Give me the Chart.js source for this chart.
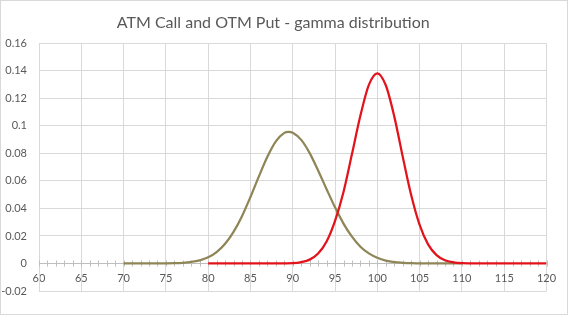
<!DOCTYPE html>
<html>
<head>
<meta charset="utf-8">
<script src="https://cdn.jsdelivr.net/npm/chart.js@4"></script>
<style>
  html, body { margin: 0; padding: 0; background: #fff; }
  #wrap { position: relative; width: 571px; height: 316px; }
  #c { position: absolute; left: 0; top: 0; }
  #frame { position: absolute; left: 0; top: 0; width: 568px; height: 315px; box-sizing: border-box; border: 1px solid #d9d9d9; pointer-events: none; }
</style>
</head>
<body>
<div id="wrap"><canvas id="c" width="571" height="316"></canvas><div id="frame"></div></div>
<script>
const chartTitle = 'ATM Call and OTM Put - gamma distribution';

// OTM put (olive curve)
const putPrices = [70,71,72,73,74,75,76,77,78,79,80,81,82,83,84,85,86,87,88,89,89.5,90,91,92,93,94,95,96,97,98,99,100,101,102,103,104,105,106,107,108,109,110];
const putGamma  = [0,0,0,0.00001,0.00003,0.00008,0.0002,0.0005,0.0011,0.0023,0.0045,0.0083,0.0143,0.0230,0.0344,0.0483,0.0633,0.0775,0.0887,0.0949,0.0957,0.0950,0.0898,0.0802,0.0676,0.0540,0.0408,0.0290,0.0195,0.0122,0.0073,0.0041,0.0021,0.0010,0.0005,0.0002,0.0001,0,0,0,0,0];

// ATM call (red curve)
const callPrices = [80,81,82,83,84,85,86,87,88,89,90,91,92,93,94,95,96,97,98,99,100,101,102,103,104,105,106,107,108,109,110,111,112,113,114,115,116,117,118,119,120];
const callGamma  = [0,0,0,0,0,0,0,0,0.00001,0.00005,0.0002,0.0010,0.0028,0.0072,0.0160,0.0310,0.0520,0.0795,0.1075,0.1298,0.1382,0.1295,0.1069,0.0777,0.0497,0.0280,0.0139,0.0061,0.0023,0.0008,0.0002,0.00005,0,0,0,0,0,0,0,0,0];

const xTicks = { min: 60, max: 120, step: 5, minorStep: 1 };
const yTicks = { min: -0.02, max: 0.16, step: 0.02 };

const toPoints = (xs, ys) => xs.map((x, i) => ({ x: x, y: ys[i] }));

const minorTicks = {
  id: 'minorTicks',
  beforeDatasetsDraw(chart) {
    const xs = chart.scales.x, ys = chart.scales.y;
    const y0 = Math.round(ys.getPixelForValue(0)) + 0.5;
    const ctx = chart.ctx;
    ctx.save();
    ctx.strokeStyle = '#bfbfbf';
    ctx.lineWidth = 1;
    ctx.beginPath();
    for (let v = xTicks.min; v <= xTicks.max; v += xTicks.minorStep) {
      const px = Math.round(xs.getPixelForValue(v)) + 0.5;
      ctx.moveTo(px, y0 - 3);
      ctx.lineTo(px, y0 + 3);
    }
    ctx.stroke();
    ctx.restore();
  }
};

function build() {
  Chart.defaults.font.family = 'Lato, "Open Sans", sans-serif';
  Chart.defaults.color = '#595959';
  new Chart(document.getElementById('c'), {
    type: 'line',
    data: {
      datasets: [
        {
          label: 'ATM Call',
          data: toPoints(callPrices, callGamma),
          borderColor: '#e3131b',
          borderWidth: 2.25,
          pointRadius: 0,
          cubicInterpolationMode: 'monotone',
          fill: false
        },
        {
          label: 'OTM Put',
          data: toPoints(putPrices, putGamma),
          borderColor: '#8f8657',
          borderWidth: 2.25,
          pointRadius: 0,
          cubicInterpolationMode: 'monotone',
          fill: false
        }
      ]
    },
    options: {
      responsive: false,
      animation: false,
      layout: { padding: { top: 0, right: 24.5, bottom: 25, left: 0 } },
      plugins: {
        legend: { display: false },
        tooltip: { enabled: false },
        title: {
          display: true,
          text: chartTitle,
          color: '#595959',
          font: { size: 16, weight: 'normal' },
          padding: { top: 12.8, bottom: 11.3 }
        }
      },
      scales: {
        x: {
          type: 'linear',
          position: { y: 0 },
          min: xTicks.min,
          max: xTicks.max,
          afterFit: s => { s.height = 0; },
          ticks: { stepSize: xTicks.step, padding: 8, font: { size: 11 }, color: '#595959', maxRotation: 0, autoSkip: false },
          grid: { color: '#d9d9d9', drawTicks: false, lineWidth: 1 },
          border: { display: true, color: '#bfbfbf', width: 1 }
        },
        y: {
          min: yTicks.min,
          max: yTicks.max,
          afterFit: s => { s.width = 39; },
          ticks: {
            stepSize: yTicks.step,
            padding: 12,
            font: { size: 11 },
            color: '#595959',
            callback: v => String(Number(v.toFixed(2)))
          },
          grid: { color: '#d9d9d9', drawTicks: false, lineWidth: 1 },
          border: { display: true, color: '#d9d9d9', width: 1 }
        }
      }
    },
    plugins: [minorTicks]
  });
}

if (document.fonts && document.fonts.load) {
  Promise.all([document.fonts.load('16px Lato'), document.fonts.load('11px Lato')]).then(build, build);
} else {
  build();
}
</script>
</body>
</html>
